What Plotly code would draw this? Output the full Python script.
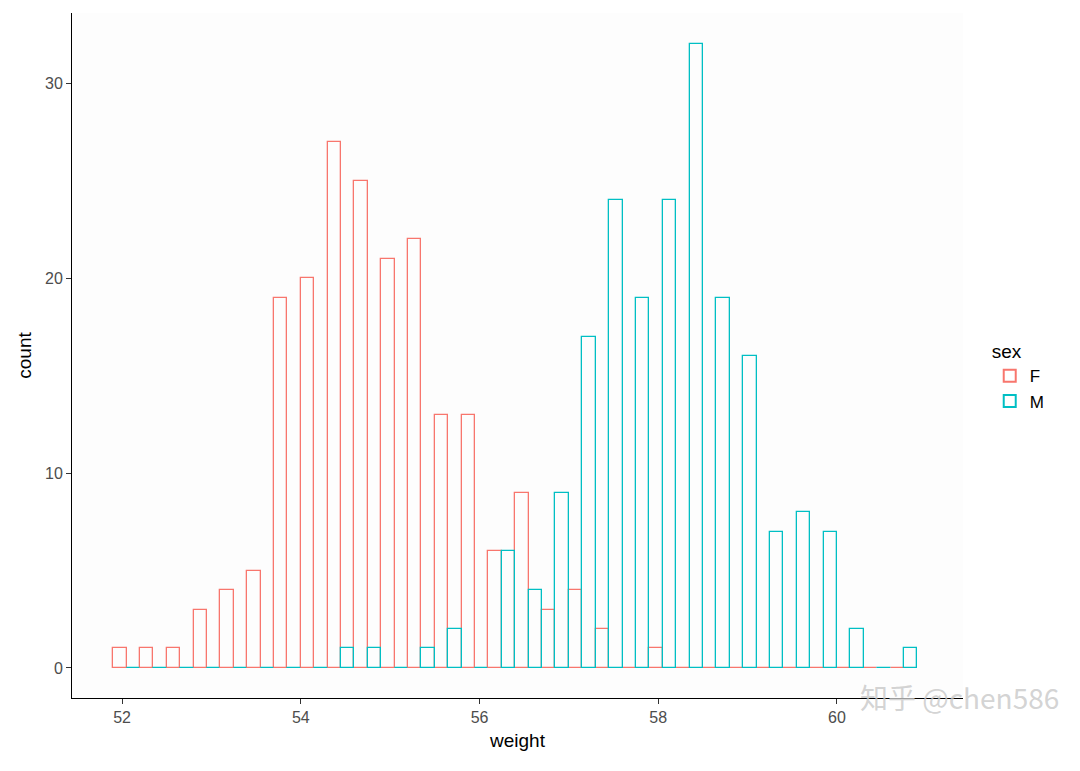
import plotly.graph_objects as go

# histogram bins (30 bins, width 0.3) and counts by sex
bin_centers = [round(52.05 + 0.3 * k, 2) for k in range(30)]
count_f = [1, 1, 1, 3, 4, 5, 19, 20, 27, 25, 21, 22, 13, 13, 6, 9, 3, 4, 2, 0, 1, 0, 0, 0, 0, 0, 0, 0, 0, 0]
count_m = [0, 0, 0, 0, 0, 0, 0, 0, 1, 1, 0, 1, 2, 0, 6, 4, 9, 17, 24, 19, 24, 32, 19, 16, 7, 8, 7, 2, 0, 1]

fig = go.Figure()
fig.add_trace(go.Bar(x=bin_centers, y=count_f, name="F",
                     marker=dict(color="rgba(0,0,0,0)", line=dict(color="#F8766D", width=1.3))))
fig.add_trace(go.Bar(x=bin_centers, y=count_m, name="M",
                     marker=dict(color="rgba(0,0,0,0)", line=dict(color="#00BFC4", width=1.3))))

fig.update_layout(
    width=1080, height=771,
    barmode="group", bargap=0, bargroupgap=0,
    paper_bgcolor="white", plot_bgcolor="#fdfdfd",
    margin=dict(l=64, r=125, t=5, b=81),
    font=dict(family="Liberation Sans, Arial", size=16, color="black"),
    legend=dict(title=dict(text="sex", font=dict(size=19)), x=1.03, y=0.47,
                yanchor="middle", font=dict(size=17), itemsizing="constant"),
    xaxis=dict(title=dict(text="weight", font=dict(size=19), standoff=8),
               range=[51.44, 61.41], tickvals=[52, 54, 56, 58, 60], automargin=False,
               showgrid=False, zeroline=False, showline=True, linecolor="black",
               ticks="outside", ticklen=5, tickcolor="#333", tickfont=dict(color="#4d4d4d", size=16)),
    yaxis=dict(title=dict(text="count", font=dict(size=19), standoff=8),
               range=[-1.54, 33.6], tickvals=[0, 10, 20, 30], automargin=False,
               showgrid=False, zeroline=False, showline=True, linecolor="black",
               ticks="outside", ticklen=5, tickcolor="#333", tickfont=dict(color="#4d4d4d", size=16)),
)
fig.add_annotation(text="知乎 @chen586", xref="paper", yref="paper", x=1.11, y=-0.03,
                   xanchor="right", yanchor="bottom", showarrow=False,
                   font=dict(family="Noto Sans CJK SC", size=28, color="rgba(200,200,200,0.8)"))
fig.write_html("out.html")
